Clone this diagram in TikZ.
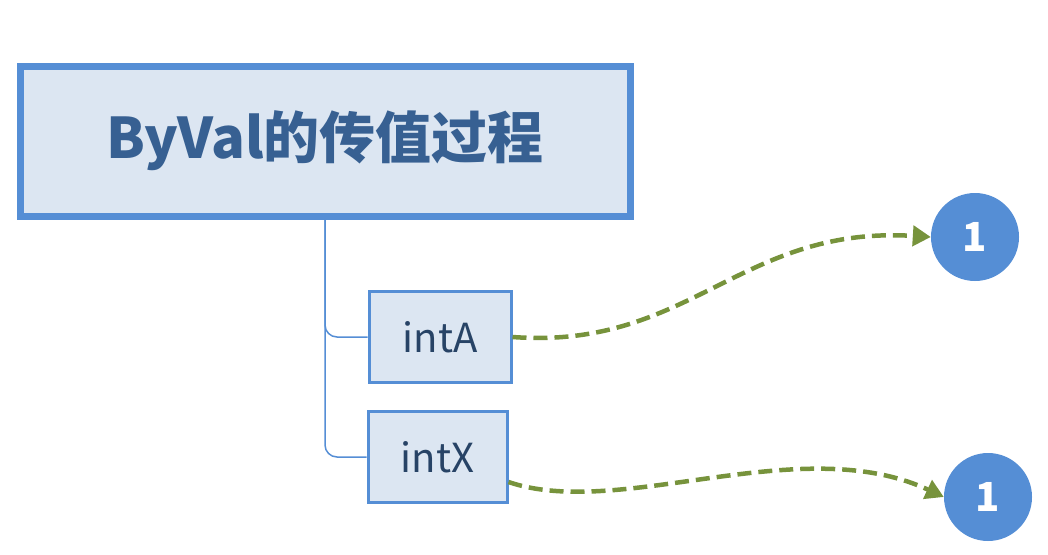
\documentclass[tikz,border=0pt]{standalone}
\usepackage{fontspec}
\setmainfont{Noto Sans CJK SC}
\usetikzlibrary{arrows.meta}
\definecolor{bl}{HTML}{558ED5}
\definecolor{lb}{HTML}{DCE6F2}
\definecolor{db}{HTML}{376092}
\definecolor{gr}{HTML}{77933C}
\begin{document}
\begin{tikzpicture}[x=1pt,y=-1pt,
 leaf/.style={draw=bl,fill=lb,line width=3pt,minimum width=142pt,minimum height=91pt,font=\fontsize{40}{40}\selectfont,text=db!70!black},
 circ/.style={circle,fill=bl,minimum size=88pt,text=white,font=\bfseries\fontsize{40}{40}\selectfont},
 arr/.style={gr,line width=4.5pt,dashed,dash pattern=on 14pt off 7pt,-{Triangle[length=18pt,width=20pt]}}]
\useasboundingbox (0,0) rectangle (1048,554);
\node[draw=bl,fill=lb,line width=7pt,minimum width=610pt,minimum height=150pt,text=db,font=\bfseries\fontsize{56}{56}\selectfont] (t) at (325,141) {ByVal的传值过程};
\node[leaf] (a) at (440,337) {intA};
\node[leaf,minimum width=139pt] (x) at (437.5,457) {intX};
\node[circ] (c1) at (975,237) {1};
\node[circ] (c2) at (988,497) {1};
\draw[bl,line width=1.5pt,rounded corners=12pt] (t.south -| 325,0) |- (a.west);
\draw[bl,line width=1.5pt,rounded corners=12pt] (t.south -| 325,0) |- (x.west);
\draw[arr] (a.east) .. controls (690,350) and (740,225) .. (c1.west);
\draw[arr] (x.east) ++(0,25) .. controls (620,520) and (800,430) .. (c2.west);
\end{tikzpicture}
\end{document}
